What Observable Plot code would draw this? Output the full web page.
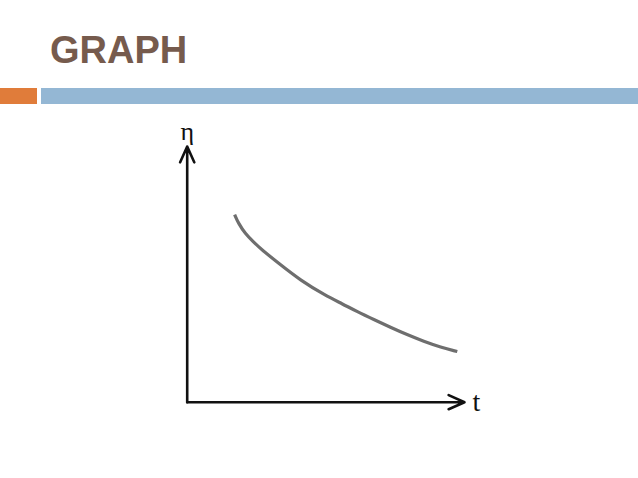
<!DOCTYPE html>
<html>
<head>
<meta charset="utf-8">
<script src="https://cdn.jsdelivr.net/npm/d3@7"></script>
<script src="https://cdn.jsdelivr.net/npm/@observablehq/plot@0.6"></script>
<style>
  html, body { margin: 0; padding: 0; background: #fff; width: 638px; height: 478px; overflow: hidden; }
  #header { position: relative; width: 638px; height: 110px; }
  #title { position: absolute; left: 50px; top: 26px; font-family: "Liberation Sans", Arial, sans-serif; font-weight: bold; font-size: 38px; color: #765b4d; line-height: 48px; }
  #barO { position: absolute; left: 0; top: 88px; width: 37px; height: 16px; background: #e07c3a; }
  #barB { position: absolute; left: 41px; top: 88px; width: 597px; height: 16px; background: #94b7d4; }
  #chart svg { display: block; }
</style>
</head>
<body>
<div id="header">
  <div id="title">GRAPH</div>
  <div id="barO"></div>
  <div id="barB"></div>
</div>
<div id="chart"></div>
<script>
// Curve (t, η) in arbitrary units
const tValues   = [1.71, 1.85, 2.09, 2.39, 2.69, 3.29, 4.09, 4.99, 5.59, 6.13, 6.73, 7.33, 7.93, 8.53, 9.14, 9.74];
const etaValues = [7.34, 6.99, 6.60, 6.27, 5.96, 5.44, 4.76, 4.17, 3.85, 3.54, 3.23, 2.93, 2.64, 2.38, 2.15, 1.98];
const axisLabels = ["t", "η"];
const axisMax = 10;

const curve = tValues.map((t, i) => ({t, eta: etaValues[i]}));
const axes = [
  {x1: 0, y1: 0, x2: axisMax, y2: 0},
  {x1: 0, y1: 0, x2: 0, y2: axisMax}
];

const chart = Plot.plot({
  width: 638,
  height: 330,
  marginLeft: 186.7,
  marginRight: 174,
  marginTop: 36,
  marginBottom: 38.3,
  x: {domain: [0, axisMax], axis: null},
  y: {domain: [0, axisMax], axis: null},
  marks: [
    Plot.arrow(axes, {x1: "x1", y1: "y1", x2: "x2", y2: "y2", stroke: "#111", strokeWidth: 2.6, headLength: 10, headAngle: 48, bend: 0}),
    Plot.line(curve, {x: "t", y: "eta", curve: "basis", stroke: "#6e6e6e", strokeWidth: 3.2, strokeLinecap: "butt"}),
    Plot.text([axisLabels[0]], {x: axisMax, y: 0, dx: 8, text: d => d, textAnchor: "start", fontFamily: "Liberation Serif, DejaVu Serif, serif", fontSize: 28, fill: "#111"}),
    Plot.text([axisLabels[1]], {x: 0, y: axisMax, dy: -15, dx: 0, text: d => d, textAnchor: "middle", fontFamily: "Liberation Serif, DejaVu Serif, serif", fontSize: 26, fill: "#111"})
  ]
});
document.getElementById("chart").appendChild(chart);
</script>
</body>
</html>
